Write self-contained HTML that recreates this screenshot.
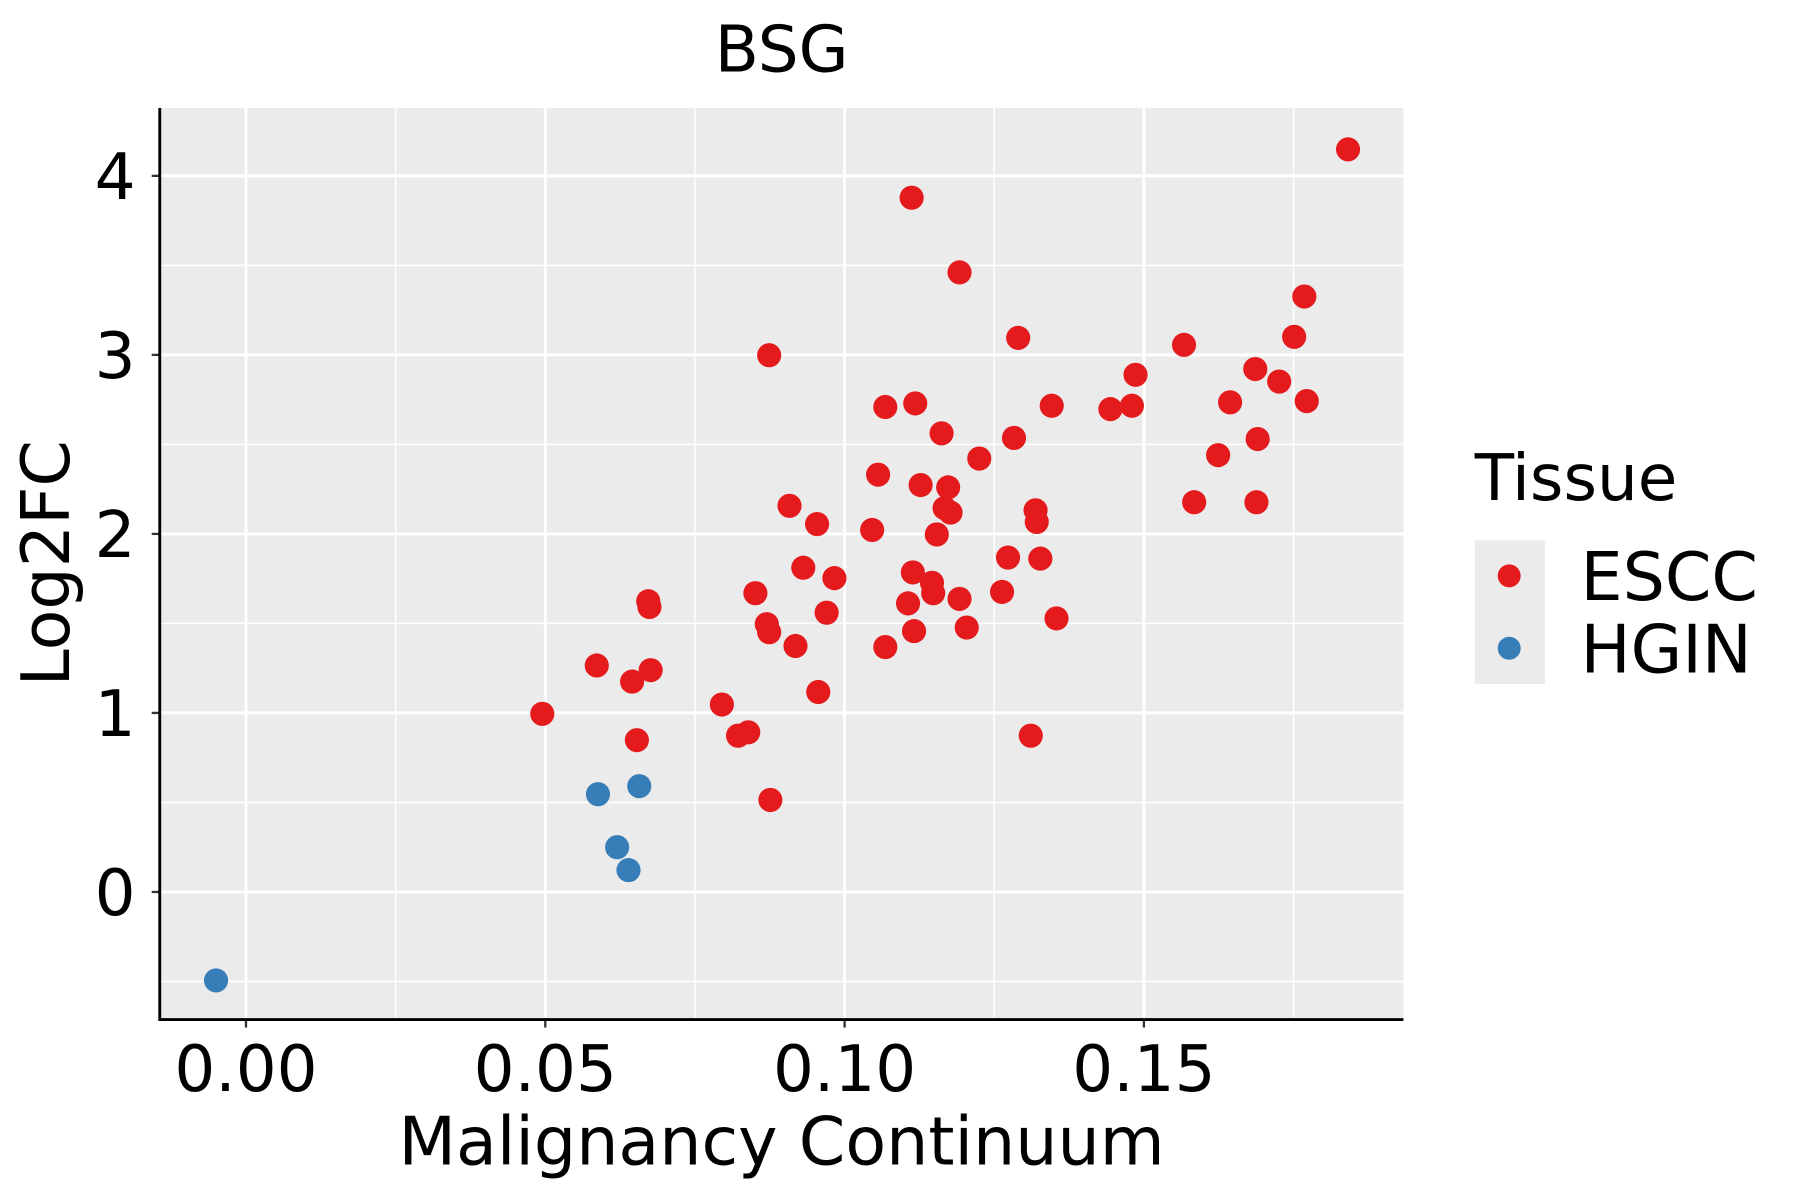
<!DOCTYPE html>
<html><head><meta charset="utf-8"><style>html,body{margin:0;padding:0;background:#fff}svg{display:block}text{font-family:"DejaVu Sans","Liberation Sans",sans-serif;fill:#000}</style></head>
<body>
<svg id="chart" width="1800" height="1200" viewBox="0 0 1566 1044" preserveAspectRatio="none" xmlns="http://www.w3.org/2000/svg">
<rect width="1566" height="1044" fill="#fff"/>
<rect x="139" y="94" width="1082" height="793" fill="#ebebeb"/>
<g id="grid"></g>
<g id="points"></g>
<g id="axes"></g>
<text x="680" y="62" font-size="56" text-anchor="middle">BSG</text>
<text x="680" y="1013" font-size="58" text-anchor="middle">Malignancy Continuum</text>
<text transform="translate(60,490) rotate(-90)" font-size="58" text-anchor="middle">Log2FC</text>
<g>
<text x="1283" y="435" font-size="56">Tissue</text>
<rect x="1283" y="470" width="61" height="125" fill="#ebebeb"/>
<circle cx="1313" cy="501" r="10" fill="#e41a1c"/>
<circle cx="1313" cy="564" r="10" fill="#377eb8"/>
<text x="1375" y="522" font-size="58">ESCC</text>
<text x="1375" y="585" font-size="58">HGIN</text>
</g>
</svg>
<script>
const escX=[0.1841,0.1112,0.1192,0.1768,0.0874,0.1290,0.1751,0.1567,0.1486,0.1686,0.1726,0.1772,0.1068,0.1118,0.1346,0.1444,0.1480,0.1644,0.1283,0.1162,0.1690,0.1624,0.1225,0.1056,0.1127,0.1173,0.1584,0.1688,0.0908,0.1167,0.1177,0.1319,0.1321,0.0954,0.1046,0.1154,0.1273,0.1327,0.0931,0.1114,0.0983,0.1146,0.1148,0.0851,0.1263,0.0672,0.0674,0.1106,0.1192,0.0970,0.1354,0.0870,0.0874,0.1204,0.1116,0.0918,0.1068,0.0586,0.0676,0.0645,0.0956,0.0795,0.0495,0.0839,0.0822,0.0653,0.1311,0.0876];
const escY=[4.148,3.878,3.461,3.326,2.998,3.095,3.101,3.056,2.889,2.921,2.851,2.742,2.709,2.729,2.716,2.697,2.716,2.735,2.536,2.562,2.530,2.440,2.421,2.331,2.273,2.260,2.177,2.177,2.157,2.144,2.119,2.132,2.067,2.055,2.022,1.997,1.868,1.862,1.811,1.785,1.753,1.727,1.669,1.669,1.676,1.624,1.592,1.612,1.637,1.560,1.528,1.496,1.451,1.477,1.457,1.374,1.368,1.265,1.239,1.175,1.117,1.047,0.995,0.892,0.873,0.848,0.873,0.514];
const hginX=[-0.0050,0.0588,0.0657,0.0620,0.0639];
const hginY=[-0.494,0.546,0.591,0.250,0.122];
const xTicks=[0,0.05,0.10,0.15];
const xTickLabels=["0.00","0.05","0.10","0.15"];
const xMinor=[0.025,0.075,0.125,0.175];
const yTicks=[0,1,2,3,4];
const yTickLabels=["0","1","2","3","4"];
const yMinor=[-0.5,0.5,1.5,2.5,3.5];

const NS="http://www.w3.org/2000/svg";
const X0=139,X1=1221,Y0=94,Y1=887;
function sx(v){return 214+v*5208;}
function sy(v){return 776-v*155.75;}
function mk(tag,attrs,parent){const e=document.createElementNS(NS,tag);for(const k in attrs)e.setAttribute(k,attrs[k]);parent.appendChild(e);return e;}
const grid=document.getElementById('grid'),pts=document.getElementById('points'),axes=document.getElementById('axes');
xMinor.forEach(v=>{const l=mk('line',{x1:sx(v),x2:sx(v),y1:Y0,y2:Y1,stroke:'#fff','stroke-width':1.3},grid);

});
yMinor.forEach(v=>{const l=mk('line',{x1:X0,x2:X1,y1:sy(v),y2:sy(v),stroke:'#fff','stroke-width':1.3},grid);

});
xTicks.forEach((v,i)=>{const l=mk('line',{x1:sx(v),x2:sx(v),y1:Y0,y2:Y1,stroke:'#fff','stroke-width':2.6},grid);


const t=mk('line',{x1:sx(v),x2:sx(v),y1:Y1,y2:Y1+7,stroke:'#333','stroke-width':2},axes);


const tx=mk('text',{x:sx(v),y:949,'font-size':56,'text-anchor':'middle'},axes);tx.textContent=xTickLabels[i];

});
yTicks.forEach((v,i)=>{const l=mk('line',{x1:X0,x2:X1,y1:sy(v),y2:sy(v),stroke:'#fff','stroke-width':2.6},grid);


const t=mk('line',{x1:X0-7,x2:X0,y1:sy(v),y2:sy(v),stroke:'#333','stroke-width':2},axes);


const tx=mk('text',{x:118,y:sy(v)+20,'font-size':56,'text-anchor':'end'},axes);tx.textContent=yTickLabels[i];

});
const ax=mk('path',{d:`M${X0},${Y0}V${Y1}H${X1}`,fill:'none',stroke:'#000','stroke-width':2.5},axes);


escX.forEach((v,i)=>{const c=mk('circle',{cx:sx(v),cy:sy(escY[i]),r:10.5,fill:'#e41a1c'},pts);

});
hginX.forEach((v,i)=>{const c=mk('circle',{cx:sx(v),cy:sy(hginY[i]),r:10.5,fill:'#377eb8'},pts);

});
</script>
</body></html>
